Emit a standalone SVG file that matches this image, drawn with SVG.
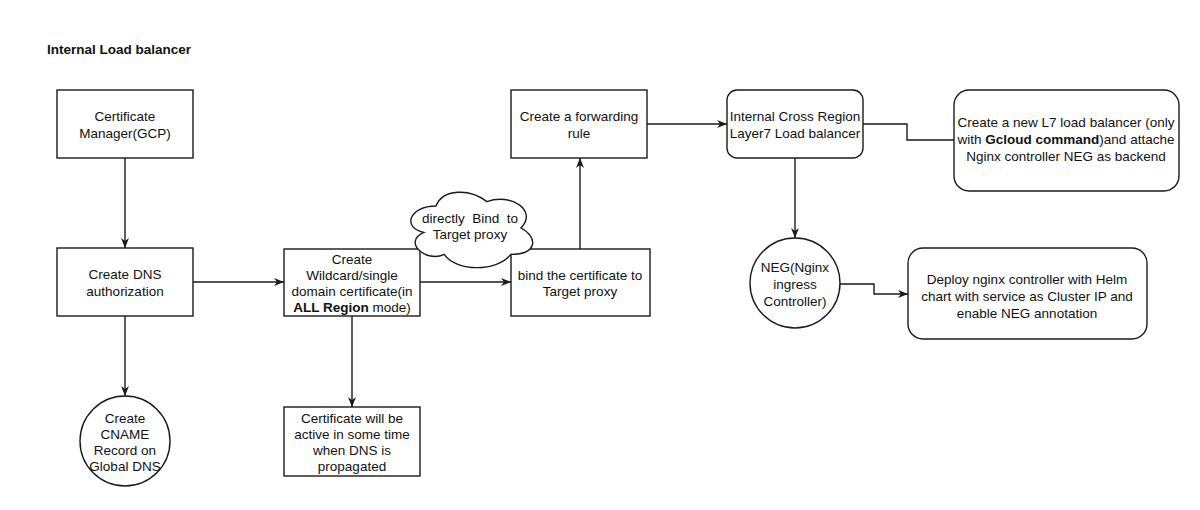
<svg xmlns="http://www.w3.org/2000/svg" width="1200" height="510" viewBox="0 0 1200 510">
<style>
.bx{fill:#fff;stroke:#1a1a1a;stroke-width:1.4}
.ln{fill:none;stroke:#1a1a1a;stroke-width:1.4}
text{font-family:"Liberation Sans",Arial,Helvetica,sans-serif;font-size:13.5px;fill:#111;text-anchor:middle}
.b{font-weight:bold}
</style>
<defs>
<marker id="arr" viewBox="0 0 10 10" refX="10" refY="5" markerWidth="10" markerHeight="10" orient="auto" markerUnits="userSpaceOnUse">
<path d="M0,1 L10,5 L0,9 L3,5 z" fill="#1a1a1a"/>
</marker>
</defs>
<rect width="1200" height="510" fill="#fff"/>
<text x="47" y="54" class="b" style="text-anchor:start">Internal Load balancer</text>

<g id="connectors">
<path class="ln" d="M125,158 V248" marker-end="url(#arr)"/>
<path class="ln" d="M125,316 V396" marker-end="url(#arr)"/>
<path class="ln" d="M193,282 H284" marker-end="url(#arr)"/>
<path class="ln" d="M420,282 H511" marker-end="url(#arr)"/>
<path class="ln" d="M352,316 V407" marker-end="url(#arr)"/>
<path class="ln" d="M580,249 V158" marker-end="url(#arr)"/>
<path class="ln" d="M647,124 H727" marker-end="url(#arr)"/>
<path class="ln" d="M863,124 H907 V140 H954"/>
<path class="ln" d="M795,158 V238" marker-end="url(#arr)"/>
<path class="ln" d="M840,284 H874 V294 H908" marker-end="url(#arr)"/>
</g>

<g id="cert-manager">
<rect class="bx" x="57" y="90" width="136" height="68"/>
<text x="125" y="121">Certificate</text>
<text x="125" y="138">Manager(GCP)</text>
</g>

<g id="dns-auth">
<rect class="bx" x="57" y="248" width="136" height="68"/>
<text x="125" y="279">Create DNS</text>
<text x="125" y="296">authorization</text>
</g>

<g id="cname">
<circle class="bx" cx="125" cy="441" r="45"/>
<text x="125" y="423">Create</text>
<text x="125" y="439">CNAME</text>
<text x="125" y="455">Record on</text>
<text x="125" y="471">Global DNS</text>
</g>

<g id="wildcard">
<rect class="bx" x="284" y="249" width="136" height="67"/>
<text x="352" y="264">Create</text>
<text x="352" y="280">Wildcard/single</text>
<text x="352" y="296">domain certificate(in</text>
<text x="352" y="312"><tspan class="b">ALL Region</tspan> mode)</text>
</g>

<g id="cert-active">
<rect class="bx" x="284" y="407" width="136" height="69"/>
<text x="352" y="423">Certificate will be</text>
<text x="352" y="439">active in some time</text>
<text x="352" y="455">when DNS is</text>
<text x="352" y="471">propagated</text>
</g>

<g id="bind">
<rect class="bx" x="511" y="249" width="139" height="67"/>
<text x="580" y="280">bind the certificate to</text>
<text x="580" y="296">Target proxy</text>
</g>

<g id="cloud">
<path class="bx" d="M436,206 C408.8,206 402,228 423.8,232.4 C402,242.1 426.5,263.2 444.2,254.4 C456.4,272 497.2,272 510.8,254.4 C538,254.4 538,236.8 521,228 C538,210.4 510.8,192.8 487,201.6 C470,188.4 442.8,188.4 436,206 Z"/>
<text x="470" y="223" xml:space="preserve">directly  Bind  to</text>
<text x="470" y="239">Target proxy</text>
</g>

<g id="forwarding">
<rect class="bx" x="511" y="90" width="136" height="68"/>
<text x="579" y="121">Create a forwarding</text>
<text x="579" y="138">rule</text>
</g>

<g id="lb">
<rect class="bx" x="727" y="90" width="136" height="68" rx="10"/>
<text x="795" y="121">Internal Cross Region</text>
<text x="795" y="138">Layer7 Load balancer</text>
</g>

<g id="new-l7">
<rect class="bx" x="954" y="90" width="225" height="101" rx="15"/>
<text x="1066" y="127">Create a new L7 load balancer (only</text>
<text x="1066" y="144">with <tspan class="b">Gcloud command</tspan>)and attache</text>
<text x="1066" y="161">Nginx controller NEG as backend</text>
</g>

<g id="neg">
<circle class="bx" cx="795" cy="283" r="45"/>
<text x="795" y="272">NEG(Nginx</text>
<text x="795" y="289">ingress</text>
<text x="795" y="306">Controller)</text>
</g>

<g id="deploy">
<rect class="bx" x="908" y="248" width="239" height="91" rx="15"/>
<text x="1027" y="284">Deploy nginx controller with Helm</text>
<text x="1027" y="301">chart with service as Cluster IP and</text>
<text x="1027" y="318">enable NEG annotation</text>
</g>
</svg>
